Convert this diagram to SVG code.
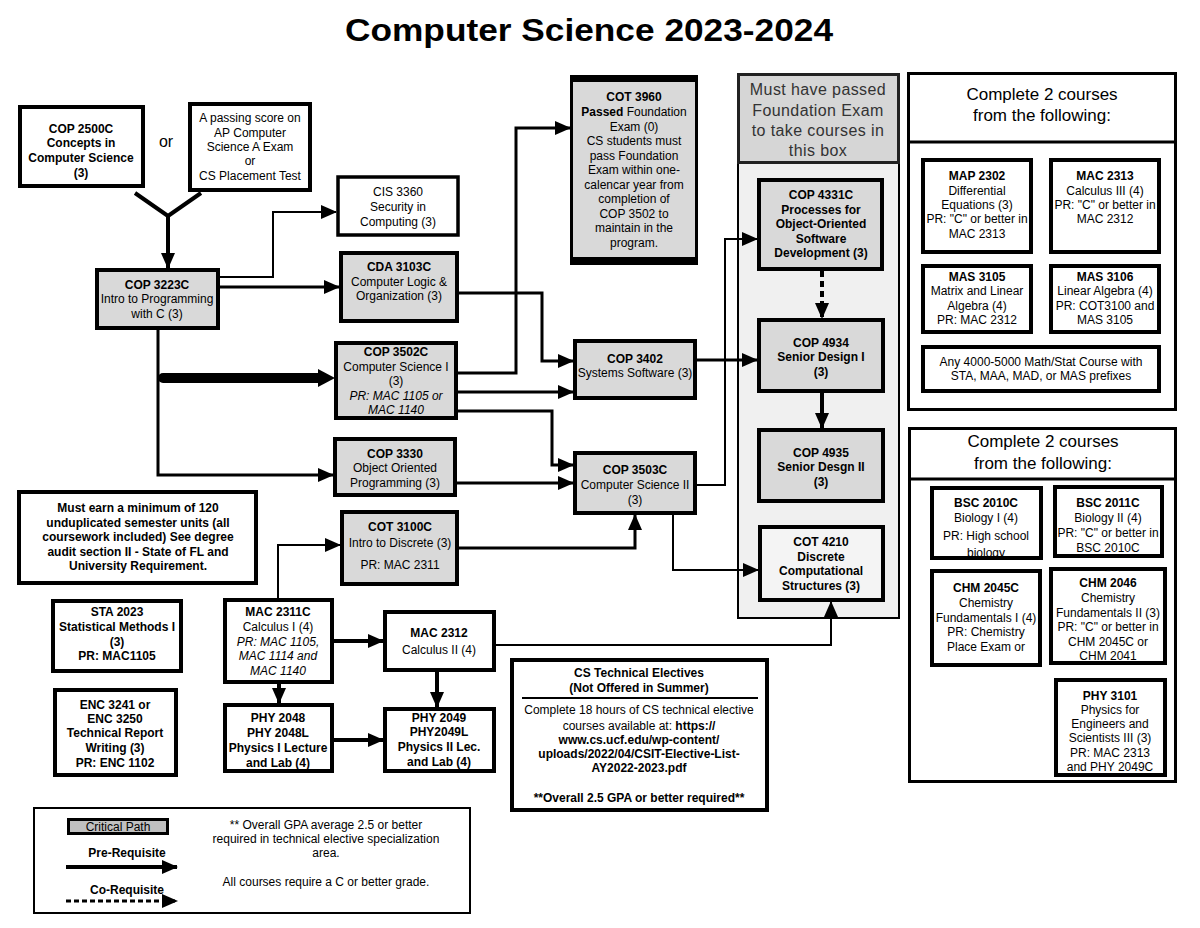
<svg xmlns="http://www.w3.org/2000/svg" width="1200" height="928" viewBox="0 0 1200 928">
<style>
text{font-family:"Liberation Sans",Arial,sans-serif;font-size:12px;text-anchor:middle;fill:#000}
.b{font-weight:bold}
.i{font-style:italic}
.n{fill:#fff;stroke:#000;stroke-width:4}
.g{fill:#d9d9d9;stroke:#000;stroke-width:4}
.c{fill:none;stroke:#000;stroke-width:3}
.c2{fill:none;stroke:#000;stroke-width:2}
.c4{fill:none;stroke:#000;stroke-width:4}
.hd{font-size:17px}
.fe{font-size:16px;fill:#333;letter-spacing:0.4px}
</style>
<defs>
<marker id="ah" markerUnits="userSpaceOnUse" markerWidth="16" markerHeight="14" refX="15" refY="7" orient="auto"><path d="M0,0 L16,7 L0,14 z" fill="#000"/></marker>
</defs>
<rect width="1200" height="928" fill="#fff"/>
<text x="345" y="41" class="b" style="font-size:32px;text-anchor:start" textLength="488" lengthAdjust="spacingAndGlyphs">Computer Science 2023-2024</text>

<g id="foundation-box">
<rect x="738" y="162" width="161" height="456" fill="#f0f0f0" stroke="#000" stroke-width="2"/>
<rect x="738.5" y="74.5" width="160" height="88" fill="#d6d6d6" stroke="#222" stroke-width="3"/>
<text x="818" y="95" class="fe">Must have passed</text>
<text x="818" y="116" class="fe">Foundation Exam</text>
<text x="818" y="136" class="fe">to take courses in</text>
<text x="818" y="156" class="fe">this box</text>
</g>

<g id="math-box">
<rect x="908.5" y="73.5" width="267" height="336" fill="#fff" stroke="#000" stroke-width="3"/>
<line x1="909" y1="142" x2="1175" y2="142" stroke="#000" stroke-width="3"/>
<text x="1042" y="100" class="hd">Complete 2 courses</text>
<text x="1042" y="121" class="hd">from the following:</text>
</g>

<g id="science-box">
<rect x="909.5" y="428.5" width="266" height="353" fill="#fff" stroke="#000" stroke-width="3"/>
<line x1="910" y1="479" x2="1175" y2="479" stroke="#000" stroke-width="3"/>
<text x="1043" y="447" class="hd">Complete 2 courses</text>
<text x="1043" y="469" class="hd">from the following:</text>
</g>

<g id="connectors">
<polyline class="c4" points="135,193 168,216 201,193"/>
<line class="c4" x1="168" y1="214" x2="168" y2="268" marker-end="url(#ah)"/>
<polyline class="c2" points="220,277 273,277 273,212 336,212" marker-end="url(#ah)"/>
<line class="c" x1="220" y1="287" x2="339" y2="287" marker-end="url(#ah)"/>
<polyline class="c" points="158,330 158,475 333,475" marker-end="url(#ah)"/>
<line x1="163" y1="378" x2="322" y2="378" stroke="#000" stroke-width="10" stroke-linecap="round"/>
<path d="M318,369 L335,378 L318,387 z" fill="#000"/>
<polyline class="c" points="458,373 516,373 516,128 570,128" marker-end="url(#ah)"/>
<polyline class="c" points="459,293 542,293 542,361 573,361" marker-end="url(#ah)"/>
<line class="c" x1="458" y1="392" x2="573" y2="392" marker-end="url(#ah)"/>
<polyline class="c" points="458,411 552,411 552,465 573,465" marker-end="url(#ah)"/>
<line class="c" x1="457" y1="483" x2="573" y2="483" marker-end="url(#ah)"/>
<line class="c" x1="697" y1="360" x2="757" y2="360" marker-end="url(#ah)"/>
<polyline class="c2" points="697,485 725,485 725,239 757,239" marker-end="url(#ah)"/>
<polyline class="c2" points="673,515 673,570 758,570" marker-end="url(#ah)"/>
<polyline class="c" points="459,548 635,548 635,515" marker-end="url(#ah)"/>
<polyline class="c2" points="278,598 278,545 340,545" marker-end="url(#ah)"/>
<line class="c4" x1="334" y1="641" x2="383" y2="641" marker-end="url(#ah)"/>
<line class="c4" x1="279" y1="684" x2="279" y2="703" marker-end="url(#ah)"/>
<line class="c4" x1="437" y1="672" x2="437" y2="707" marker-end="url(#ah)"/>
<line class="c4" x1="334" y1="740" x2="383" y2="740" marker-end="url(#ah)"/>
<polyline class="c2" points="496,645 831,645 831,602" marker-end="url(#ah)"/>
<line class="c4" x1="822" y1="271" x2="822" y2="318" stroke-dasharray="6,4" marker-end="url(#ah)"/>
<line class="c4" x1="822" y1="393" x2="822" y2="428" marker-end="url(#ah)"/>
</g>

<g id="cop2500c">
<rect class="n" x="20" y="107" width="123" height="79"/>
<text x="81" y="133" class="b">COP 2500C</text>
<text x="81" y="147" class="b">Concepts in</text>
<text x="81" y="162" class="b">Computer Science</text>
<text x="81" y="177" class="b">(3)</text>
</g>
<text x="166" y="147" style="font-size:16px">or</text>
<g id="ap-exam">
<rect class="n" x="190" y="104" width="120" height="86"/>
<text x="250" y="122">A passing score on</text>
<text x="250" y="137">AP Computer</text>
<text x="250" y="151">Science A Exam</text>
<text x="250" y="165">or</text>
<text x="250" y="180">CS Placement Test</text>
</g>
<g id="cop3223c">
<rect class="g" x="97" y="270" width="121" height="58"/>
<text x="157" y="289" class="b">COP 3223C</text>
<text x="157" y="303">Intro to Programming</text>
<text x="157" y="318">with C (3)</text>
</g>
<g id="cis3360">
<rect class="n" x="338" y="177" width="120" height="58" style="stroke-width:3.5"/>
<text x="398" y="196">CIS 3360</text>
<text x="398" y="211">Security in</text>
<text x="398" y="226">Computing (3)</text>
</g>
<g id="cda3103c">
<rect class="g" x="341" y="253" width="116" height="68"/>
<text x="399" y="271" class="b">CDA 3103C</text>
<text x="399" y="286">Computer Logic &amp;</text>
<text x="399" y="300">Organization (3)</text>
</g>
<g id="cot3960">
<rect x="571.5" y="76.5" width="125" height="187" fill="#d9d9d9" stroke="#000" stroke-width="3"/>
<rect x="570" y="75" width="128" height="7" fill="#000"/>
<rect x="570" y="257" width="128" height="8" fill="#000"/>
<text x="634" y="101" class="b">COT 3960</text>
<text x="634" y="116"><tspan class="b">Passed</tspan> Foundation</text>
<text x="634" y="131">Exam (0)</text>
<text x="634" y="145">CS students must</text>
<text x="634" y="160">pass Foundation</text>
<text x="634" y="174">Exam  within one-</text>
<text x="634" y="189">calencar year from</text>
<text x="634" y="203">completion of</text>
<text x="634" y="218">COP 3502 to</text>
<text x="634" y="232">maintain in the</text>
<text x="634" y="247">program.</text>
</g>
<g id="cop3502c">
<rect class="g" x="336" y="343" width="120" height="75"/>
<text x="396" y="356" class="b">COP 3502C</text>
<text x="396" y="371">Computer Science I</text>
<text x="396" y="385">(3)</text>
<text x="396" y="400" class="i">PR: MAC 1105 or</text>
<text x="396" y="414" class="i">MAC 1140</text>
</g>
<g id="cop3402">
<rect class="g" x="575" y="341" width="120" height="57"/>
<text x="635" y="363" class="b">COP 3402</text>
<text x="635" y="377">Systems Software (3)</text>
</g>
<g id="cop3330">
<rect class="g" x="335" y="439" width="120" height="56"/>
<text x="395" y="458" class="b">COP 3330</text>
<text x="395" y="472">Object Oriented</text>
<text x="395" y="487">Programming (3)</text>
</g>
<g id="cop3503c">
<rect class="g" x="575" y="453" width="120" height="60"/>
<text x="635" y="474" class="b">COP 3503C</text>
<text x="635" y="489">Computer Science II</text>
<text x="635" y="504">(3)</text>
</g>
<g id="cot3100c">
<rect class="g" x="342" y="512" width="115" height="72"/>
<text x="400" y="531" class="b">COT 3100C</text>
<text x="400" y="547">Intro to Discrete (3)</text>
<text x="400" y="569">PR: MAC 2311</text>
</g>
<g id="units-note">
<rect class="n" x="19" y="492" width="237" height="91"/>
<text x="138" y="512" class="b">Must earn a minimum of 120</text>
<text x="138" y="527" class="b">unduplicated semester units (all</text>
<text x="138" y="541" class="b">coursework included) See degree</text>
<text x="138" y="556" class="b">audit section II - State of FL and</text>
<text x="138" y="570" class="b">University Requirement.</text>
</g>
<g id="sta2023">
<rect class="n" x="53" y="601" width="128" height="70"/>
<text x="117" y="616" class="b">STA 2023</text>
<text x="117" y="631" class="b">Statistical Methods I</text>
<text x="117" y="646" class="b">(3)</text>
<text x="117" y="660" class="b">PR: MAC1105</text>
</g>
<g id="enc3241">
<rect class="n" x="55" y="690" width="121" height="85"/>
<text x="115" y="709" class="b">ENC 3241 or</text>
<text x="115" y="723" class="b">ENC 3250</text>
<text x="115" y="737" class="b">Technical Report</text>
<text x="115" y="752" class="b">Writing (3)</text>
<text x="115" y="767" class="b">PR: ENC 1102</text>
</g>
<g id="mac2311c">
<rect class="n" x="225" y="600" width="107" height="82"/>
<text x="278" y="616" class="b">MAC 2311C</text>
<text x="278" y="631">Calculus I (4)</text>
<text x="278" y="646" class="i">PR: MAC 1105,</text>
<text x="278" y="660" class="i">MAC 1114 and</text>
<text x="278" y="675" class="i">MAC 1140</text>
</g>
<g id="phy2048">
<rect class="n" x="225" y="705" width="107" height="66"/>
<text x="278" y="722" class="b">PHY 2048</text>
<text x="278" y="737" class="b">PHY 2048L</text>
<text x="278" y="752" class="b">Physics I Lecture</text>
<text x="278" y="767" class="b">and Lab (4)</text>
</g>
<g id="mac2312">
<rect class="n" x="385" y="612" width="109" height="58"/>
<text x="439" y="637" class="b">MAC 2312</text>
<text x="439" y="654">Calculus II (4)</text>
</g>
<g id="phy2049">
<rect class="n" x="385" y="709" width="109" height="62"/>
<text x="439" y="722" class="b">PHY 2049</text>
<text x="439" y="736" class="b">PHY2049L</text>
<text x="439" y="751" class="b">Physics II Lec.</text>
<text x="439" y="766" class="b">and Lab (4)</text>
</g>
<g id="cs-electives">
<rect class="n" x="512" y="660" width="255" height="150"/>
<text x="639" y="677" class="b">CS Technical Electives</text>
<text x="639" y="692" class="b">(Not Offered in Summer)</text>
<line x1="522" y1="698" x2="758" y2="698" stroke="#000" stroke-width="2"/>
<text x="639" y="714">Complete 18 hours of CS technical elective</text>
<text x="639" y="730">courses available at: <tspan class="b">https://</tspan></text>
<text x="639" y="744" class="b">www.cs.ucf.edu/wp-content/</text>
<text x="639" y="758" class="b">uploads/2022/04/CSIT-Elective-List-</text>
<text x="639" y="772" class="b">AY2022-2023.pdf</text>
<text x="639" y="802" class="b">**Overall 2.5 GPA or better required**</text>
</g>
<g id="cop4331c">
<rect class="g" x="759" y="180" width="123" height="89"/>
<text x="821" y="199" class="b">COP 4331C</text>
<text x="821" y="214" class="b">Processes for</text>
<text x="821" y="228" class="b">Object-Oriented</text>
<text x="821" y="243" class="b">Software</text>
<text x="821" y="257" class="b">Development (3)</text>
</g>
<g id="cop4934">
<rect class="g" x="759" y="320" width="124" height="71"/>
<text x="821" y="347" class="b">COP 4934</text>
<text x="821" y="361" class="b">Senior Design I</text>
<text x="821" y="376" class="b">(3)</text>
</g>
<g id="cop4935">
<rect class="g" x="759" y="430" width="124" height="71"/>
<text x="821" y="457" class="b">COP 4935</text>
<text x="821" y="471" class="b">Senior Desgn II</text>
<text x="821" y="486" class="b">(3)</text>
</g>
<g id="cot4210">
<rect x="760" y="527" width="123" height="73" fill="#f4f4f4" stroke="#000" stroke-width="4"/>
<text x="821" y="546" class="b">COT 4210</text>
<text x="821" y="561" class="b">Discrete</text>
<text x="821" y="575" class="b">Computational</text>
<text x="821" y="590" class="b">Structures (3)</text>
</g>
<g id="map2302">
<rect class="n" x="923" y="160" width="108" height="92"/>
<text x="977" y="180" class="b">MAP 2302</text>
<text x="977" y="195">Differential</text>
<text x="977" y="209">Equations (3)</text>
<text x="977" y="223">PR: "C" or better in</text>
<text x="977" y="238">MAC 2313</text>
</g>
<g id="mac2313">
<rect class="n" x="1051" y="160" width="108" height="92"/>
<text x="1105" y="180" class="b">MAC 2313</text>
<text x="1105" y="195">Calculus III (4)</text>
<text x="1105" y="209">PR: "C" or better in</text>
<text x="1105" y="223">MAC 2312</text>
</g>
<g id="mas3105">
<rect class="n" x="923" y="266" width="108" height="66"/>
<text x="977" y="281" class="b">MAS 3105</text>
<text x="977" y="295">Matrix and Linear</text>
<text x="977" y="310">Algebra (4)</text>
<text x="977" y="324">PR: MAC 2312</text>
</g>
<g id="mas3106">
<rect class="n" x="1051" y="266" width="108" height="66"/>
<text x="1105" y="281" class="b">MAS 3106</text>
<text x="1105" y="295">Linear Algebra (4)</text>
<text x="1105" y="310">PR: COT3100 and</text>
<text x="1105" y="324">MAS 3105</text>
</g>
<g id="math-any">
<rect class="n" x="923" y="347" width="236" height="44"/>
<text x="1041" y="366">Any 4000-5000 Math/Stat Course with</text>
<text x="1041" y="380">STA, MAA, MAD, or MAS prefixes</text>
</g>
<g id="bsc2010c">
<rect class="n" x="932" y="488" width="109" height="70"/>
<text x="986" y="507" class="b">BSC 2010C</text>
<text x="986" y="522">Biology I (4)</text>
<text x="986" y="540">PR: High school</text>
<text x="986" y="557">biology</text>
</g>
<g id="bsc2011c">
<rect class="n" x="1055" y="487" width="107" height="69"/>
<text x="1108" y="507" class="b">BSC 2011C</text>
<text x="1108" y="522">Biology II (4)</text>
<text x="1108" y="537">PR: "C" or better in</text>
<text x="1108" y="552">BSC 2010C</text>
</g>
<g id="chm2045c">
<rect class="n" x="932" y="571" width="108" height="94"/>
<text x="986" y="592" class="b">CHM 2045C</text>
<text x="986" y="607">Chemistry</text>
<text x="986" y="622">Fundamentals I (4)</text>
<text x="986" y="636">PR: Chemistry</text>
<text x="986" y="651">Place Exam or</text>
</g>
<g id="chm2046">
<rect class="n" x="1051" y="569" width="114" height="94"/>
<text x="1108" y="587" class="b">CHM 2046</text>
<text x="1108" y="602">Chemistry</text>
<text x="1108" y="617">Fundamentals II (3)</text>
<text x="1108" y="631">PR: "C" or better in</text>
<text x="1108" y="646">CHM 2045C or</text>
<text x="1108" y="660">CHM 2041</text>
</g>
<g id="phy3101">
<rect class="n" x="1056" y="680" width="109" height="95"/>
<text x="1110" y="700" class="b">PHY 3101</text>
<text x="1110" y="714">Physics for</text>
<text x="1110" y="728">Engineers and</text>
<text x="1110" y="742">Scientists III (3)</text>
<text x="1110" y="757">PR: MAC 2313</text>
<text x="1110" y="771">and PHY 2049C</text>
</g>

<g id="legend">
<rect x="34" y="808" width="436" height="105" fill="#fff" stroke="#000" stroke-width="2"/>
<rect x="68.5" y="819.5" width="99" height="14" fill="#c0c0c0" stroke="#000" stroke-width="3"/>
<text x="118" y="831">Critical Path</text>
<text x="127" y="857" class="b">Pre-Requisite</text>
<line class="c4" x1="66" y1="867" x2="177" y2="867" marker-end="url(#ah)"/>
<text x="127" y="894" class="b">Co-Requisite</text>
<line x1="66" y1="901" x2="177" y2="901" stroke="#000" stroke-width="3" stroke-dasharray="5,3" marker-end="url(#ah)"/>
<text x="326" y="829">** Overall GPA average 2.5 or better</text>
<text x="326" y="843">required in technical elective specialization</text>
<text x="326" y="857">area.</text>
<text x="326" y="886">All courses require a C or better grade.</text>
</g>
</svg>
